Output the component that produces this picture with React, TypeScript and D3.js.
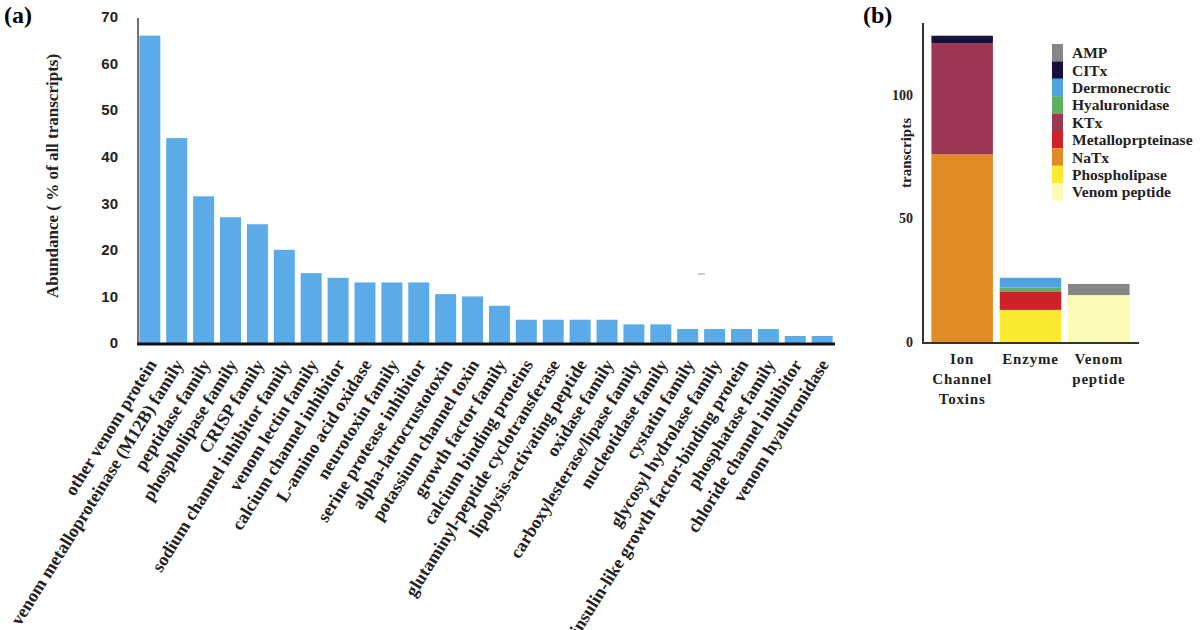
import * as d3 from "d3";

// panel (a): abundance of venom protein families
const families = [
  "other venom protein",
  "venom metalloproteinase (M12B) family",
  "peptidase family",
  "phospholipase family",
  "CRISP family",
  "sodium channel inhibitor family",
  "venom lectin family",
  "calcium channel inhibitor",
  "L-amino acid oxidase",
  "neurotoxin family",
  "serine protease inhibitor",
  "alpha-latrocrustotoxin",
  "potassium channel toxin",
  "growth factor family",
  "calcium binding proteins",
  "glutaminyl-peptide cyclotransferase",
  "lipolysis-activating peptide",
  "oxidase family",
  "carboxylesterase/lipase family",
  "nucleotidase family",
  "cystatin family",
  "glycosyl hydrolase family",
  "insulin-like growth factor-binding protein",
  "phosphatase family",
  "chloride channel inhibitor",
  "venom hyaluronidase",
];
const abundance = [66, 44, 31.5, 27, 25.5, 20, 15, 14, 13, 13, 13, 10.5, 10, 8, 5, 5, 5, 5, 4, 4, 3, 3, 3, 3, 1.5, 1.5];
const abundanceTicks = [0, 10, 20, 30, 40, 50, 60, 70];

// panel (b): transcripts by toxin class
const groups = ["Ion Channel Toxins", "Enzyme", "Venom peptide"];
const groupLines = [["Ion", "Channel", "Toxins"], ["Enzyme"], ["Venom", "peptide"]];
const toxinTypes = [
  "AMP",
  "CITx",
  "Dermonecrotic",
  "Hyaluronidase",
  "KTx",
  "Metalloprpteinase",
  "NaTx",
  "Phospholipase",
  "Venom peptide",
];
const toxinColors = ["#868686", "#16123f", "#4fa3e1", "#5fae5b", "#9b3653", "#cf2228", "#df8b26", "#fbea2f", "#fcfab4"];
const amp = [0, 0, 4.5];
const citx = [3, 0, 0];
const dermonecrotic = [0, 4, 0];
const hyaluronidase = [0, 1.5, 0];
const ktx = [45, 0, 0];
const metallo = [0, 7.5, 0];
const natx = [76, 0, 0];
const phospholipase = [0, 13, 0];
const venomPeptide = [0, 0, 19];
const transcriptTicks = [0, 50, 100];

const serif = "'Liberation Serif', 'Times New Roman', serif";
const sans = "'Liberation Sans', Arial, sans-serif";

export default function App() {
  // ---- panel (a)
  const xA = d3.scaleBand(families, [138, 834]).paddingInner(0.22).paddingOuter(0.05);
  const yA = d3.scaleLinear([0, 70], [343, 17]);

  // ---- panel (b)
  const seriesValues = [amp, citx, dermonecrotic, hyaluronidase, ktx, metallo, natx, phospholipase, venomPeptide];
  const table = groups.map((g, gi) => {
    const row: Record<string, any> = { group: g };
    toxinTypes.forEach((t, ti) => (row[t] = seriesValues[ti][gi]));
    return row;
  });
  const stacked = d3.stack<any>().keys([...toxinTypes].reverse())(table);
  const color = d3.scaleOrdinal(toxinTypes, toxinColors);
  const xB = d3.scaleBand(groups, [928, 1133]).paddingInner(0.1).paddingOuter(0.05);
  const yB = d3.scaleLinear([0, 100], [342, 95]);

  return (
    <div style={{ position: "absolute", left: 0, top: 0 }}>
      <svg width={1200} height={630} style={{ display: "block", background: "#fff" }}>
        {/* panel (a) */}
        <text x={4} y={23} fontFamily={serif} fontWeight="bold" fontSize={24}>(a)</text>
        <g>
          {families.map((f, i) => (
            <rect key={f} x={xA(f)} y={yA(abundance[i])} width={xA.bandwidth()} height={yA(0) - yA(abundance[i])} fill="#5aabe7" />
          ))}
        </g>
        <line x1={138} x2={138} y1={yA(70) + 1} y2={yA(0)} stroke="#444" strokeWidth={1.5} />
        <line x1={137} x2={835} y1={yA(0) + 1} y2={yA(0) + 1} stroke="#111" strokeWidth={3} />
        <g fontFamily={sans} fontWeight="bold" fontSize={15} fill="#222" textAnchor="end">
          {abundanceTicks.map((t) => (
            <text key={t} x={118} y={yA(t)} dy="0.35em">{t}</text>
          ))}
        </g>
        <text
          transform={`translate(58,176) rotate(-90)`}
          textAnchor="middle"
          fontFamily={serif}
          fontWeight="bold"
          fontSize={17}
          fill="#222"
        >
          Abundance ( % of all transcripts)
        </text>
        <g fontFamily={serif} fontWeight="bold" fontSize={18} fill="#222" textAnchor="end">
          {families.map((f) => (
            <text key={f} transform={`translate(${xA(f)! + xA.bandwidth() / 2 + 2},361) rotate(-58)`} dy="0.35em">
              {f}
            </text>
          ))}
        </g>
        <line x1={698} x2={705} y1={274} y2={274} stroke="#999" strokeWidth={1} />

        {/* panel (b) */}
        <text x={863} y={23} fontFamily={serif} fontWeight="bold" fontSize={24}>(b)</text>
        <g>
          {stacked.map((s) => (
            <g key={s.key} fill={color(s.key)}>
              {s.map((d, i) =>
                d[1] - d[0] > 0 ? (
                  <rect key={i} x={xB(groups[i])} y={yB(d[1])} width={xB.bandwidth()} height={yB(d[0]) - yB(d[1])} />
                ) : null
              )}
            </g>
          ))}
        </g>
        <line x1={923} x2={923} y1={23} y2={343} stroke="#333" strokeWidth={2} />
        <line x1={922} x2={1139} y1={343} y2={343} stroke="#333" strokeWidth={2} />
        <g fontFamily={serif} fontWeight="bold" fontSize={14} fill="#222" textAnchor="end">
          {transcriptTicks.map((t) => (
            <text key={t} x={913} y={yB(t)} dy="0.35em">{t}</text>
          ))}
        </g>
        <text
          transform={`translate(911,153) rotate(-90)`}
          textAnchor="middle"
          fontFamily={serif}
          fontWeight="bold"
          fontSize={15}
          fill="#222"
        >
          transcripts
        </text>
        <g fontFamily={serif} fontWeight="bold" fontSize={15} fill="#222" textAnchor="middle" letterSpacing={0.8}>
          {groups.map((g, gi) => (
            <text key={g} x={xB(g)! + xB.bandwidth() / 2} y={364}>
              {groupLines[gi].map((l, li) => (
                <tspan key={l} x={xB(g)! + xB.bandwidth() / 2} dy={li === 0 ? 0 : 20}>
                  {l}
                </tspan>
              ))}
            </text>
          ))}
        </g>
        <g fontFamily={serif} fontWeight="bold" fontSize={15.5} fill="#222">
          {toxinTypes.map((t, i) => (
            <g key={t} transform={`translate(1052,${44 + i * 17.4})`}>
              <rect width={11} height={17.4} fill={color(t)} />
              <text x={20} y={8.7} dy="0.35em">{t}</text>
            </g>
          ))}
        </g>
      </svg>
    </div>
  );
}
